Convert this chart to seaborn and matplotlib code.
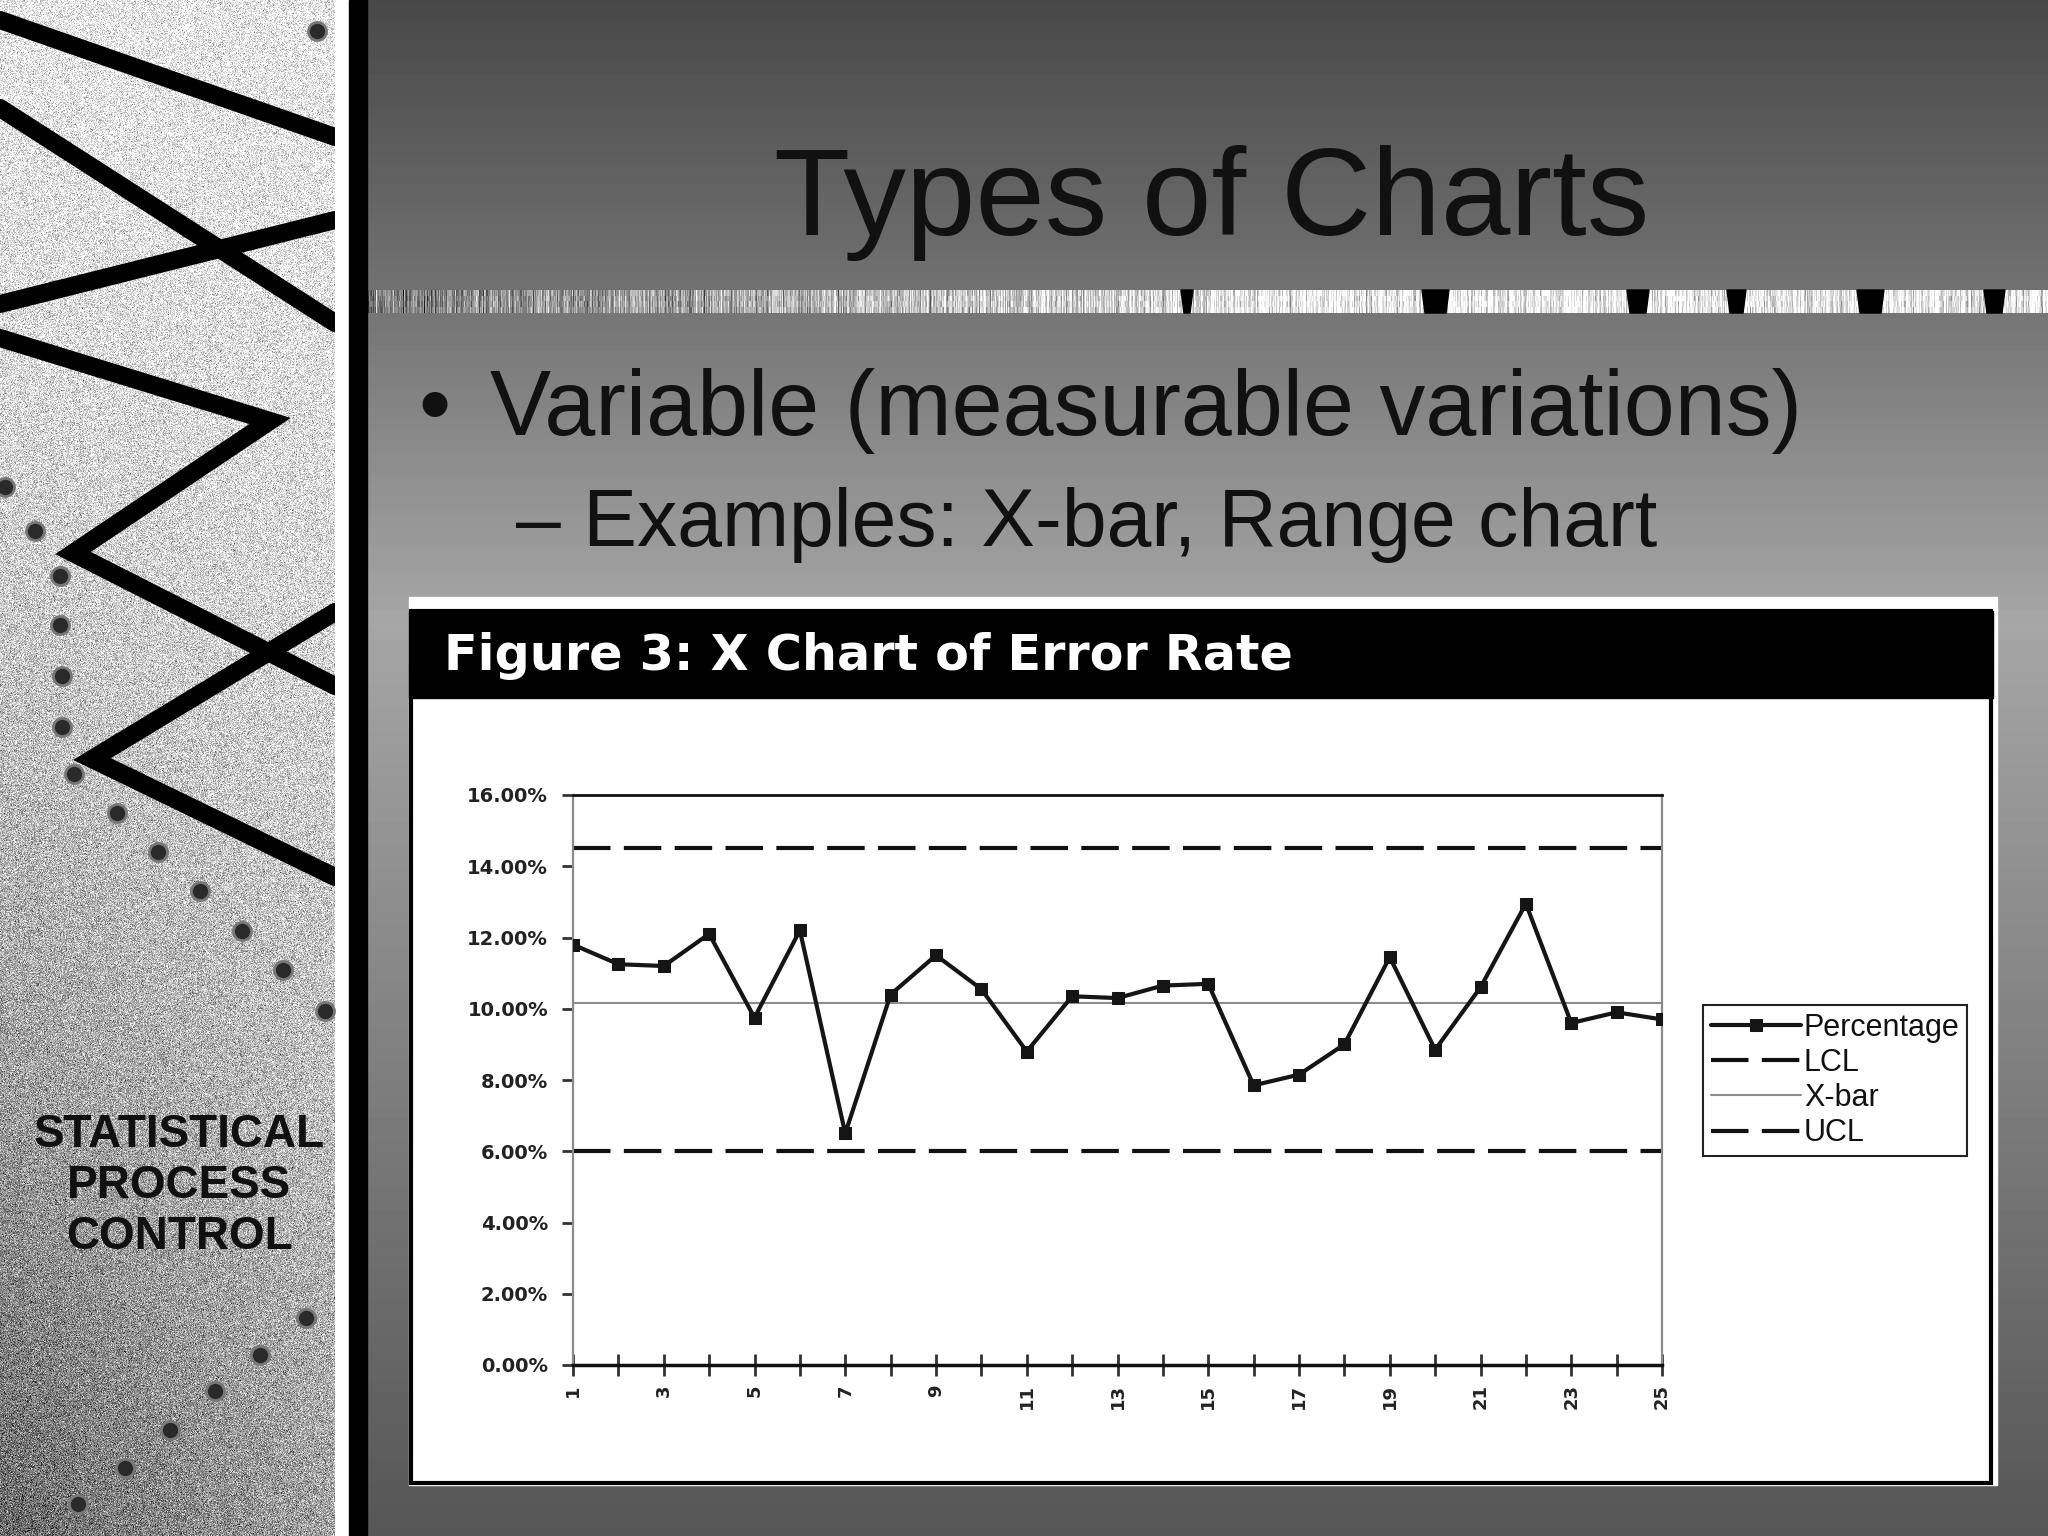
import numpy as np
import matplotlib
matplotlib.use('Agg')
import matplotlib.pyplot as plt
import seaborn as sns
from matplotlib import font_manager
from matplotlib.patches import Rectangle, Polygon
from matplotlib.ticker import PercentFormatter

# --- Data Setup ---
# X chart of error rate, 25 samples
samples = list(range(1, 26))
error_rate = [11.8, 11.25, 11.2, 12.1, 9.75, 12.2, 6.5, 10.4, 11.5, 10.55,
              8.8, 10.35, 10.3, 10.65, 10.7, 7.85, 8.15, 9.0, 11.45, 8.85,
              10.6, 12.95, 9.6, 9.9, 9.7]
UCL = 14.5
XBAR = 10.15
LCL = 6.0
y_ticks = [0, 2, 4, 6, 8, 10, 12, 14, 16]
x_tick_labels = [str(s) if s % 2 == 1 else '' for s in samples]
legend_labels = ['Percentage', 'LCL', 'X-bar', 'UCL']

# --- Slide geometry (pixels) ---
W, H = 2048, 1536


def fx(x):
    return x / W


def fy(y):
    return 1 - y / H


sns.set_theme(style='white')
plt.rcParams['font.family'] = ['Liberation Sans', 'DejaVu Sans']

try:
    font_manager.findfont('Liberation Sans Narrow', fallback_to_default=False)
    title_family, title_size = 'Liberation Sans Narrow', 50
except ValueError:
    title_family, title_size = 'DejaVu Sans', 35.5

fig = plt.figure(figsize=(W / 100, H / 100), dpi=100)

# --- Background: gray gradient, decorative band, chart frame ---
bg = fig.add_axes([0, 0, 1, 1])
prof = np.interp(np.arange(H), [0, 290, 620, 1536], [72, 114, 166, 86]) / 255
bg.imshow(np.repeat(prof[:, None], 4, axis=1), cmap='gray', vmin=0, vmax=1,
          extent=[0, W, H, 0], aspect='auto')

rng = np.random.default_rng(3)
bw = W - 367
ramp = np.interp(np.arange(bw), [0, 500, 900, bw], [0.5, 0.72, 0.93, 0.9])
cols = ramp + rng.normal(0, 0.12, bw)
band = np.clip(np.vstack([cols + rng.normal(0, 0.07, bw) for _ in range(4)]), 0, 1)
bg.imshow(band, cmap='gray', vmin=0, vmax=1, extent=[367, W, 313, 290],
          aspect='auto', interpolation='nearest')
for x0, x1 in [(1181, 1193), (1422, 1449), (1627, 1649), (1727, 1746), (1857, 1884), (1984, 2005)]:
    bg.add_patch(Polygon([(x0, 290), (x1, 290), (x1 - 3, 313), (x0 + 3, 313)], color='black'))

bg.add_patch(Rectangle((335, 0), 14, H, color='white'))
bg.add_patch(Rectangle((349, 0), 18, H, color='black'))

bg.add_patch(Rectangle((409, 597), 1588, 888, color='white'))
bg.add_patch(Rectangle((411, 611), 1580, 872, fill=False, lw=3, edgecolor='black'))
bg.add_patch(Rectangle((409, 611), 1584, 87, color='black'))
bg.text(444, 656, 'Figure 3: X Chart of Error Rate', color='white', fontsize=title_size,
        fontweight='bold', family=title_family, va='center', ha='left')

bg.set_xlim(0, W)
bg.set_ylim(H, 0)
bg.axis('off')

# --- Left decorative panel ---
lp = fig.add_axes([0, 0, fx(335), 1])
yy, xx = np.mgrid[0:H, 0:335]
base = 0.92 - 0.52 * (yy / H) ** 1.5 * (1 - 0.45 * xx / 335)
tex = np.clip(base + rng.normal(0, 0.14, base.shape), 0, 1)
lp.imshow(tex, cmap='gray', vmin=0, vmax=1, extent=[0, 335, H, 0], aspect='auto')

zig_lines = [
    [(0, 20), (335, 137)],
    [(0, 108), (335, 323)],
    [(0, 304), (335, 220)],
    [(0, 338), (270, 421), (73, 553), (335, 686)],
    [(335, 612), (92, 759), (335, 877)],
]
for pts in zig_lines:
    px, py = zip(*pts)
    lp.plot(px, py, color='black', lw=13, solid_joinstyle='miter')

dots = [(317, 31), (5, 487), (35, 531), (60, 576), (60, 625), (62, 676), (62, 727),
        (74, 774), (117, 813), (158, 852), (200, 891), (242, 931), (283, 970), (325, 1011),
        (306, 1318), (260, 1355), (215, 1391), (170, 1430), (125, 1468), (78, 1504)]
dx, dy = zip(*dots)
lp.plot(dx, dy, 'o', color='#2a2a2a', markersize=13, markeredgecolor='#777', markeredgewidth=2)

lp.text(179, 1186, 'STATISTICAL\nPROCESS\nCONTROL', fontsize=33, fontweight='bold',
        ha='center', va='center', multialignment='center', linespacing=1.22, color='#111')
lp.set_xlim(0, 335)
lp.set_ylim(H, 0)
lp.axis('off')

# --- Slide text ---
fig.text(fx(1212), fy(235), 'Types of Charts', fontsize=90, ha='center', va='baseline', color='#111')
fig.text(fx(418), fy(435), '\u2022', fontsize=66, ha='left', va='baseline', color='#111')
fig.text(fx(490), fy(435), 'Variable (measurable variations)', fontsize=66,
         ha='left', va='baseline', color='#111')
fig.text(fx(516), fy(546), '\u2013 Examples: X-bar, Range chart', fontsize=58,
         ha='left', va='baseline', color='#111')

# --- Control chart ---
ax = fig.add_axes([fx(573), fy(1365), fx(1662 - 573), (1365 - 795) / H])
ax.set_facecolor('white')

sns.lineplot(x=samples, y=error_rate, ax=ax, color='#151515', lw=3, marker='s',
             markersize=9, markeredgecolor='#151515', label=legend_labels[0], zorder=5)
ax.axhline(LCL, color='#111111', lw=3, ls=(0, (9, 3.2)), label=legend_labels[1])
ax.axhline(XBAR, color='#8c8c8c', lw=1.5, label=legend_labels[2])
ax.axhline(UCL, color='#111111', lw=3, ls=(0, (9, 3.2)), label=legend_labels[3])

ax.set_xlim(1, 25)
ax.set_ylim(0, 16)
ax.set_xticks(samples)
ax.set_xticklabels(x_tick_labels, rotation=90, fontsize=13, fontweight='bold',
                   family='DejaVu Sans', color='#222')
ax.set_yticks(y_ticks)
ax.yaxis.set_major_formatter(PercentFormatter(decimals=2))
for lab in ax.get_yticklabels():
    lab.set_fontsize(14)
    lab.set_fontweight('bold')
    lab.set_family('DejaVu Sans')
    lab.set_color('#222')
ax.tick_params(axis='y', direction='out', length=8, width=2, color='#333', pad=10, left=True)
ax.tick_params(axis='x', direction='inout', length=16, width=2, color='#333', pad=6, bottom=True)
ax.set_xlabel('')
ax.set_ylabel('')

ax.spines['top'].set_color('#111')
ax.spines['top'].set_linewidth(2)
ax.spines['bottom'].set_color('#111')
ax.spines['bottom'].set_linewidth(2.5)
ax.spines['left'].set_color('#8a8a8a')
ax.spines['left'].set_linewidth(1.6)
ax.spines['right'].set_color('#8a8a8a')
ax.spines['right'].set_linewidth(1.6)

leg = ax.legend(loc='upper left', bbox_to_anchor=(fx(1703), fy(1005)),
                bbox_transform=fig.transFigure, borderaxespad=0, frameon=True,
                fancybox=False, framealpha=1, edgecolor='#222', fontsize=22,
                handlelength=2.95, handletextpad=0.1, labelspacing=0.17, borderpad=0.25,
                numpoints=1)
leg.get_frame().set_linewidth(1.5)
for t in leg.get_texts():
    t.set_color('#111')

plt.savefig('out.png', dpi=100)
